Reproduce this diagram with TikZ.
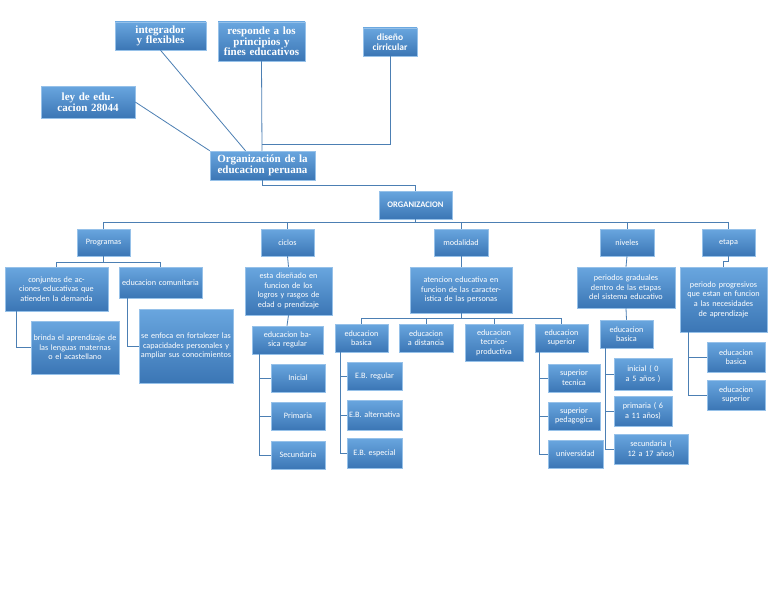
\documentclass[tikz,border=0pt]{standalone}
\usepackage{fontspec}
\setmainfont{Carlito}
\newfontfamily\serifb{Liberation Serif}
\usetikzlibrary{shadows}
\definecolor{boxblue}{HTML}{4A8BCB}
\definecolor{boxtop}{HTML}{69A6DF}
\definecolor{boxbot}{HTML}{3B76B5}
\definecolor{linec}{HTML}{4C7FB3}
\tikzset{
  box/.style={draw=boxtop!70!white, line width=0.5pt, top color=boxtop, bottom color=boxbot,
    text=white, align=center, inner sep=1pt, font=\fontsize{8.2}{9.6}\selectfont,
    drop shadow={shadow xshift=1.2pt,shadow yshift=-1.2pt,opacity=0.35}},
  sbox/.style={box, font=\serifb\bfseries\fontsize{11}{10.5}\selectfont},
  conn/.style={draw=linec, line width=0.8pt}
}
\newcommand\bx[7][box]{%
  \node[#1, minimum width={#5pt-#3pt}, minimum height={#6pt-#4pt}, text width={#5pt-#3pt-3pt}]
    (#2) at ({(#3+#5)/2},{(#4+#6)/2}) {#7};}
\begin{document}
\begin{tikzpicture}[x=1pt,y=-1pt]
\useasboundingbox[fill=white] (0,0) rectangle (768,594);
% top
\bx[sbox]{integ}{115}{22}{206}{50}{integrador y flexibles}
\bx[sbox]{resp}{218}{22}{305}{61}{responde a los principios y fines educativos}
\bx[box,font=\bfseries\fontsize{9.5}{10.5}\selectfont]{dis}{363}{28}{417}{56}{diseño cirricular}
\bx[sbox]{ley}{41}{86}{135}{118}{ley de educacion 28044}
\bx[sbox]{org}{210}{151}{315}{180}{Organización de la educacion peruana}
\bx[box,font=\bfseries\fontsize{8.5}{10}\selectfont]{orgz}{379}{191}{452}{219}{ORGANIZACION}
% level 1
\bx{prog}{77}{229}{130}{256}{Programas}
\bx{cic}{261}{229}{314}{256}{ciclos}
\bx{mod}{434}{229}{488}{256}{modalidad}
\bx{niv}{600}{229}{654}{256}{niveles}
\bx{eta}{702}{229}{755}{256}{etapa}
% programas
\bx{conj}{5}{267}{108}{311}{conjuntos de acciones educativas que atienden la demanda}
\bx{com}{119}{267}{202}{298}{educacion comunitaria}
\bx{bri}{31}{321}{119}{374}{brinda el aprendizaje de las lenguas maternas o el acastellano}
\bx{enf}{139}{309}{233}{383}{se enfoca en fortalezer las capacidades personales y ampliar sus conocimientos}
% ciclos
\bx{est}{245}{267}{332}{315}{esta diseñado en funcion de los logros y rasgos de edad o prendizaje}
\bx{ebr}{252}{326}{323}{354}{educacion basica regular}
\bx{ini}{271}{364}{325}{392}{Inicial}
\bx{pri}{271}{402}{325}{430}{Primaria}
\bx{sec}{271}{441}{325}{469}{Secundaria}
% modalidad
\bx{ate}{410}{267}{512}{313}{atencion educativa en funcion de las caracteristica de las personas}
\bx{meb}{335}{324}{388}{352}{educacion basica}
\bx{mdi}{399}{324}{453}{352}{educacion a distancia}
\bx{mtp}{465}{324}{523}{361}{educacion tecnico-productiva}
\bx{msu}{535}{324}{588}{352}{educacion superior}
\bx{ebre}{347}{362}{402}{390}{E.B. regular}
\bx{ebal}{347}{400}{402}{430}{E.B. alternativa}
\bx{ebes}{347}{438}{402}{468}{E.B. especial}
\bx{stec}{548}{364}{600}{392}{superior tecnica}
\bx{sped}{548}{402}{600}{430}{superior pedagogica}
\bx{univ}{548}{440}{603}{468}{universidad}
% niveles
\bx{per}{577}{267}{675}{308}{periodos graduales dentro de las etapas del sistema educativo}
\bx{neb}{600}{320}{653}{348}{educacion basica}
\bx{nin}{614}{358}{672}{390}{inicial ( 0 a 5 años )}
\bx{npr}{614}{396}{672}{426}{primaria ( 6 a 11 años)}
\bx{nse}{614}{434}{688}{464}{secundaria ( 12 a 17 años)}
% etapa
\bx{pro}{680}{267}{767}{332}{periodo progresivos que estan en funcion a las necesidades de aprendizaje}
\bx{eeb}{707}{342}{765}{372}{educacion basica}
\bx{esu}{707}{380}{765}{410}{educacion superior}
% connectors top
\begin{scope}[on background layer/.style={}]
\draw[conn] (ley.east) -- (org.north west);
\draw[conn] (integ.south) -- ([xshift=-17pt]org.north);
\draw[conn] (resp.south) -- ([xshift=-0.5pt]org.north);
\draw[conn] (dis.south) |- ([xshift=-0.5pt,yshift=6pt]org.north);
\draw[conn] (org.south) -- ++(0,5) -| (orgz.north);
\foreach \n in {prog,cic,mod,niv,eta} \draw[conn] (orgz.south) -- ++(0,3) -| (\n.north);
\foreach \n in {conj,com} \draw[conn] (prog.south) -- ++(0,6) -| (\n.north);
\draw[conn] ([xshift=12pt]conj.south west) |- (bri.west);
\draw[conn] ([xshift=9pt]com.south west) |- (enf.west);
\draw[conn] (cic.south) -- (est.north);
\draw[conn] (est.south) -- ([xshift=-0.5pt]ebr.north);
\foreach \n in {ini,pri,sec} \draw[conn] ([xshift=8pt]ebr.south west) |- (\n.west);
\draw[conn] (mod.south) -- (ate.north);
\foreach \n in {meb,mdi,mtp,msu} \draw[conn] (ate.south) -- ++(0,5) -| (\n.north);
\foreach \n in {ebre,ebal,ebes} \draw[conn] ([xshift=6pt]meb.south west) |- (\n.west);
\foreach \n in {stec,sped,univ} \draw[conn] ([xshift=5pt]msu.south west) |- (\n.west);
\draw[conn] (niv.south) -- (per.north);
\draw[conn] (per.south) -- (neb.north);
\foreach \n in {nin,npr,nse} \draw[conn] ([xshift=6pt]neb.south west) |- (\n.west);
\draw[conn] (eta.south) -- ++(0,5) -| (pro.north);
\foreach \n in {eeb,esu} \draw[conn] ([xshift=9pt]pro.south west) |- (\n.west);
\end{scope}
\end{tikzpicture}
\end{document}
